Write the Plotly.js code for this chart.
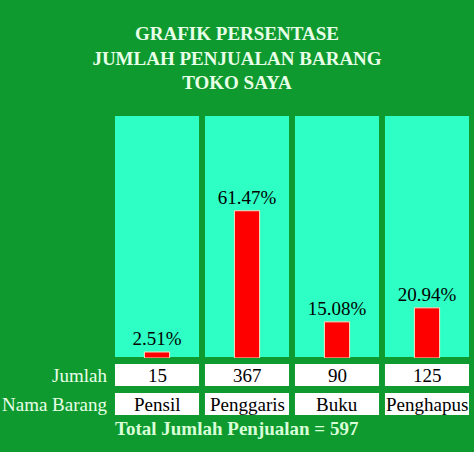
<!DOCTYPE html>
<html>
<head>
<meta charset="utf-8">
<script src="https://cdn.plot.ly/plotly-3.0.1.min.js"></script>
<style>html,body{margin:0;padding:0;background:#0f9a2f;}</style>
</head>
<body>
<div id="chart" style="width:474px;height:452px;"></div>
<script>
var namaBarang = ['Pensil', 'Penggaris', 'Buku', 'Penghapus'];
var jumlah = [15, 367, 90, 125];
var persen = [2.51, 61.47, 15.08, 20.94];
var totalJumlah = 597;

var green = '#0f9a2f';
var aqua = '#2effc4';
var serif = 'Liberation Serif';

// plot area: top 116px, bottom 358px -> helper to place things below it
var plotTop = 116, plotBottom = 358, plotH = plotBottom - plotTop;
function py(px) { return (plotBottom - px) / plotH; }

var trace = {
  x: namaBarang,
  y: persen,
  type: 'bar',
  width: 0.28,
  text: persen.map(function (p) { return p.toFixed(2) + '%'; }),
  textposition: 'outside',
  constraintext: 'none',
  textfont: { family: serif, size: 19, color: '#000000' },
  cliponaxis: false,
  marker: { color: '#ff0000', line: { color: '#f3e2c4', width: 1 } },
  hoverinfo: 'skip'
};

var shapes = [];
var annotations = [];

namaBarang.forEach(function (nama, i) {
  // aqua column panel
  shapes.push({
    type: 'rect', xref: 'x', yref: 'paper', layer: 'below',
    x0: i - 0.467, x1: i + 0.467, y0: 0.004, y1: 1,
    fillcolor: aqua, line: { width: 0 }
  });
  // white cells for the two table rows
  shapes.push({
    type: 'rect', xref: 'x', yref: 'paper',
    x0: i - 0.467, x1: i + 0.467, y0: py(386), y1: py(364),
    fillcolor: '#ffffff', line: { width: 0 }
  });
  shapes.push({
    type: 'rect', xref: 'x', yref: 'paper',
    x0: i - 0.467, x1: i + 0.467, y0: py(415), y1: py(393),
    fillcolor: '#ffffff', line: { width: 0 }
  });
  annotations.push({
    x: i, y: py(375), xref: 'x', yref: 'paper', xanchor: 'center', yanchor: 'middle',
    showarrow: false, text: String(jumlah[i]),
    font: { family: serif, size: 19, color: '#000000' }
  });
  annotations.push({
    x: i, y: py(404), xref: 'x', yref: 'paper', xanchor: 'center', yanchor: 'middle',
    showarrow: false, text: nama,
    font: { family: serif, size: 19, color: '#000000' }
  });
});

annotations.push({
  x: (109 - 112) / 360, y: py(375), xref: 'paper', yref: 'paper',
  xanchor: 'right', yanchor: 'middle', showarrow: false, text: 'Jumlah',
  font: { family: serif, size: 19, color: '#e8ffe8' }
});
annotations.push({
  x: (109 - 112) / 360, y: py(404), xref: 'paper', yref: 'paper',
  xanchor: 'right', yanchor: 'middle', showarrow: false, text: 'Nama Barang',
  font: { family: serif, size: 19, color: '#e8ffe8' }
});
annotations.push({
  x: (237 - 112) / 360, y: py(428), xref: 'paper', yref: 'paper',
  xanchor: 'center', yanchor: 'middle', showarrow: false,
  text: '<b>Total Jumlah Penjualan = ' + totalJumlah + '</b>',
  font: { family: serif, size: 19, color: '#d8ffd8' }
});

var layout = {
  width: 474,
  height: 452,
  font: { family: serif },
  title: {
    text: '<b>GRAFIK PERSENTASE<br>JUMLAH PENJUALAN BARANG<br>TOKO SAYA</b>',
    font: { family: serif, size: 19, color: '#e8ffe8' },
    x: 0.5, xanchor: 'center', xref: 'container',
    y: 1 - 40 / 452, yanchor: 'middle', yref: 'container'
  },
  margin: { l: 112, r: 2, t: plotTop, b: 452 - plotBottom },
  paper_bgcolor: green,
  plot_bgcolor: green,
  showlegend: false,
  bargap: 0,
  xaxis: {
    type: 'category', range: [-0.5, 3.5], fixedrange: true,
    showticklabels: false, showgrid: false, zeroline: false, showline: false, ticks: ''
  },
  yaxis: {
    range: [0, 101], fixedrange: true,
    showticklabels: false, showgrid: false, zeroline: false, showline: false, ticks: ''
  },
  shapes: shapes,
  annotations: annotations
};

Plotly.newPlot('chart', [trace], layout, { displayModeBar: false, staticPlot: true });
</script>
</body>
</html>
